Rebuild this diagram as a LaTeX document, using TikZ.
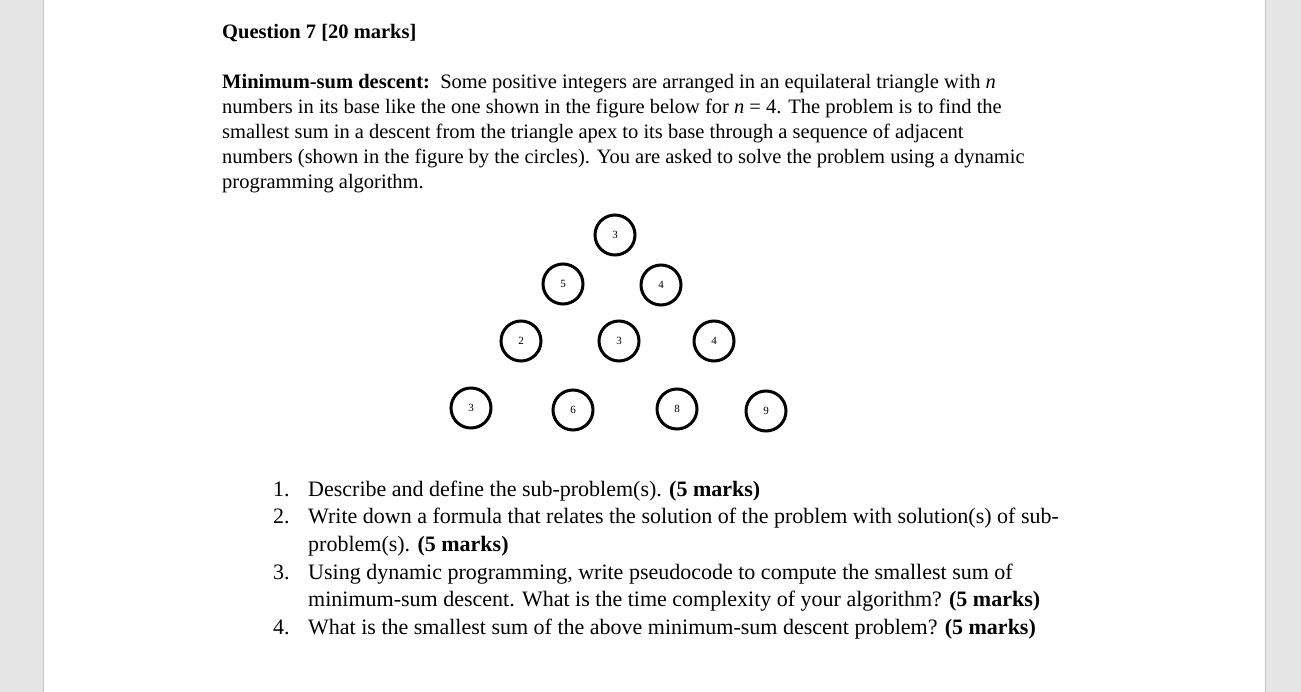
\documentclass[tikz,border=0pt]{standalone}
\usepackage{fontspec}
\setmainfont{Liberation Serif}
\begin{document}
\begin{tikzpicture}[x=1pt,y=-1pt,
  num/.style={circle,draw,line width=3pt,minimum size=40pt,inner sep=0pt,font=\fontsize{11}{12}\selectfont},
  ln/.style={anchor=base west,inner sep=0pt,font=\fontsize{20.5}{24}\selectfont},
  li/.style={anchor=base west,inner sep=0pt,font=\fontsize{22}{26}\selectfont}]
\useasboundingbox (0,0) rectangle (1301,692);
\fill[gray!20] (0,0) rectangle (1301,692);
\fill[white] (43,0) rectangle (1265,692);
\draw[gray!45] (43,0) -- (43,692) (1265,0) -- (1265,692);
\node[ln] (q) at (222,39) {\textbf{Question 7 [20 marks]}};
\node[ln] (p1) at (222,89) {\textbf{Minimum-sum descent:}\ \ Some positive integers are arranged in an equilateral triangle with \textit{n}};
\node[ln] (p2) at (222,114) {numbers in its base like the one shown in the figure below for \textit{n} = 4. The problem is to find the};
\node[ln] (p3) at (222,139) {smallest sum in a descent from the triangle apex to its base through a sequence of adjacent};
\node[ln] (p4) at (222,164) {numbers (shown in the figure by the circles). You are asked to solve the problem using a dynamic};
\node[ln] (p5) at (222,189) {programming algorithm.};
\node[num] (a) at (615,235) {3};
\node[num] (b1) at (563,284) {5};
\node[num] (b2) at (661,285) {4};
\node[num] (c1) at (521,341) {2};
\node[num] (c2) at (619,341) {3};
\node[num] (c3) at (714,341) {4};
\node[num] (d1) at (471,408) {3};
\node[num] (d2) at (573,410) {6};
\node[num] (d3) at (677,409) {8};
\node[num] (d4) at (766,411) {9};
\node[li] (n1) at (273,496) {1.};
\node[li] (n2) at (273,523) {2.};
\node[li] (n3) at (273,579) {3.};
\node[li] (n4) at (273,634) {4.};
\node[li] (l1) at (308,496) {Describe and define the sub-problem(s). \textbf{(5 marks)}};
\node[li] (l2) at (308,523) {Write down a formula that relates the solution of the problem with solution(s) of sub-};
\node[li] (l3) at (308,551) {problem(s). \textbf{(5 marks)}};
\node[li] (l4) at (308,579) {Using dynamic programming, write pseudocode to compute the smallest sum of};
\node[li] (l5) at (308,606) {minimum-sum descent. What is the time complexity of your algorithm? \textbf{(5 marks)}};
\node[li] (l6) at (308,634) {What is the smallest sum of the above minimum-sum descent problem? \textbf{(5 marks)}};
\end{tikzpicture}
\end{document}
